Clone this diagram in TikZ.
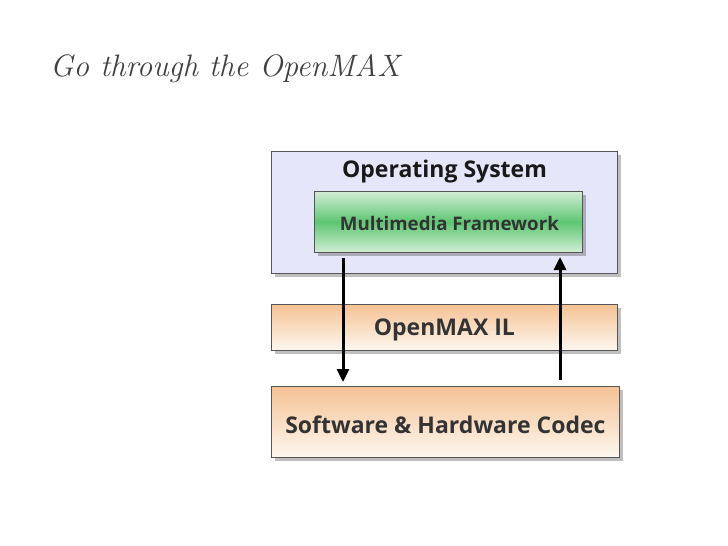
\documentclass[tikz,border=0pt]{standalone}
\usepackage{fontspec}
\setsansfont{Open Sans}
\usetikzlibrary{shadows,arrows.meta}
\definecolor{lav}{HTML}{E6E6FA}
\definecolor{bordr}{HTML}{555555}
\definecolor{txt}{HTML}{333333}
\definecolor{grmid}{HTML}{5EC672}
\definecolor{grlt}{HTML}{D2EED6}
\definecolor{ortop}{HTML}{F5C294}
\definecolor{orbot}{HTML}{FDF7F0}
\tikzset{
  layer/.style={draw=bordr, line width=0.8pt, anchor=north west, inner sep=0pt,
    drop shadow={shadow xshift=4pt, shadow yshift=-4pt, fill=black, opacity=0.25}},
  orbox/.style={layer, top color=ortop, bottom color=orbot},
  flow/.style={line width=3pt, -{Triangle[length=13pt,width=12pt]}},
  lbl/.style={font=\sffamily\bfseries\fontsize{23}{26}\selectfont, text=txt},
}
\begin{document}
\begin{tikzpicture}[x=1pt,y=-1pt]
\useasboundingbox (0,0) rectangle (728,546);
\node[anchor=base west, inner sep=0pt, text=black!75, font=\fontsize{31}{36}\selectfont\itshape] (title) at (50,76) {Go through the OpenMAX};
\node[layer, fill=lav, minimum width=346pt, minimum height=122pt] (os) at (271,151) {};
\node[lbl, text=black!90] (ostxt) at (444.5,172) {Operating System};
\node[layer, top color=grlt, bottom color=grlt, middle color=grmid, minimum width=268pt, minimum height=61pt] (mf) at (314,191) {};
\node[lbl, font=\sffamily\bfseries\fontsize{18.7}{22}\selectfont] (mftxt) at ([xshift=1pt,yshift=-2pt]mf.center) {Multimedia Framework};
\node[orbox, minimum width=346pt, minimum height=46pt] (il) at (271,304) {};
\node[lbl] at ([yshift=-3pt]il.center) {OpenMAX IL};
\node[orbox, minimum width=348pt, minimum height=71pt] (codec) at (271,386) {};
\node[lbl] at ([yshift=-3pt]codec.center) {Software \& Hardware Codec};
\coordinate (a1s) at (343,258);
\coordinate (a1e) at (343,382);
\coordinate (a2s) at (560,380);
\coordinate (a2e) at (560,257);
\draw[flow] (a1s) -- (a1e);
\draw[flow] (a2s) -- (a2e);
\end{tikzpicture}
\end{document}
